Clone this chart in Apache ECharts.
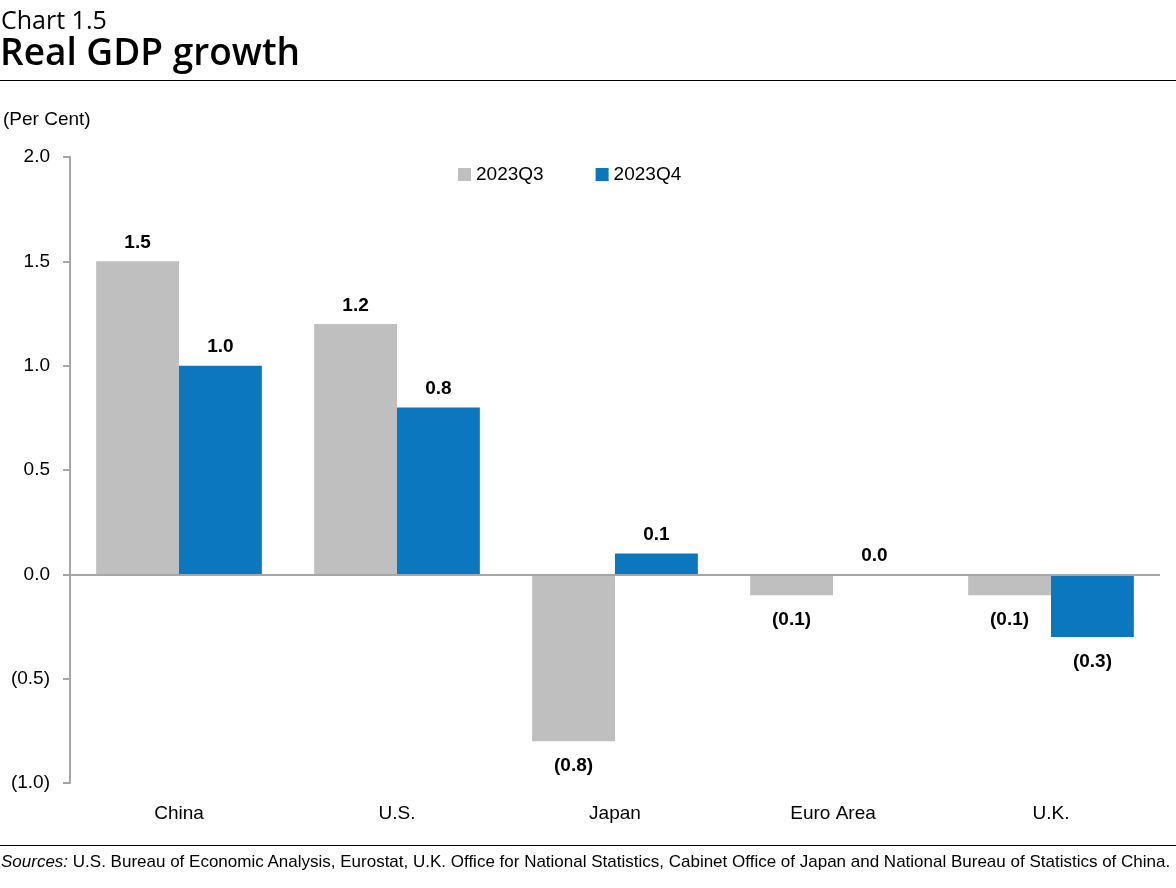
<!DOCTYPE html>
<html>
<head>
<meta charset="utf-8">
<script src="https://cdn.jsdelivr.net/npm/echarts@6/dist/echarts.min.js"></script>
<style>
html,body{margin:0;padding:0;background:#fff;}
#wrap{position:relative;width:1176px;height:888px;overflow:hidden;}
#chart{position:absolute;left:0;top:0;width:1176px;height:888px;}
.t1{position:absolute;left:1px;top:2px;font-family:"Open Sans","Noto Sans",sans-serif;font-size:25px;color:#000;}
.t2{position:absolute;left:0px;top:25px;font-family:"Open Sans","Noto Sans",sans-serif;font-size:37px;font-weight:600;color:#000;}
.hr1{position:absolute;left:0;top:80px;width:1176px;height:1px;background:#000;}
.hr2{position:absolute;left:0;top:845px;width:1176px;height:1px;background:#000;}
.unit{position:absolute;left:3px;top:108px;font-family:"Liberation Sans Narrow","Liberation Sans",Arial,sans-serif;font-size:19px;color:#000;}
.src{position:absolute;left:1px;top:852px;font-family:"Liberation Sans Narrow","Liberation Sans",Arial,sans-serif;font-size:17px;color:#000;white-space:nowrap;}
</style>
</head>
<body>
<div id="wrap">
<div id="chart"></div>
<div class="t1">Chart 1.5</div>
<div class="t2">Real GDP growth</div>
<div class="hr1"></div>
<div class="unit">(Per Cent)</div>
<div class="hr2"></div>
<div class="src"><i>Sources:</i> U.S. Bureau of Economic Analysis, Eurostat, U.K. Office for National Statistics, Cabinet Office of Japan and National Bureau of Statistics of China.</div>
</div>
<script>
var categories = ["China", "U.S.", "Japan", "Euro Area", "U.K."];
var seriesNames = ["2023Q3", "2023Q4"];
var q3Values = [1.5, 1.2, -0.8, -0.1, -0.1];
var q4Values = [1.0, 0.8, 0.1, 0.0, -0.3];
var yTicks = [-1.0, -0.5, 0.0, 0.5, 1.0, 1.5, 2.0];

var FONT = '"Liberation Sans Narrow","Liberation Sans",Arial,sans-serif';

function fmt(v) {
  v = Number(v);
  if (v < -1e-9) return '(' + Math.abs(v).toFixed(1) + ')';
  return v.toFixed(1);
}
function toData(arr) {
  return arr.map(function (v) {
    return { value: v, label: { position: v < 0 ? 'bottom' : 'top', distance: v < 0 ? 15 : 9 } };
  });
}

var chart = echarts.init(document.getElementById('chart'));
chart.setOption({
  animation: false,
  textStyle: { fontFamily: FONT },
  legend: {
    top: 160,
    left: 453,
    itemWidth: 13,
    itemHeight: 13,
    itemGap: 52,
    icon: 'rect',
    textStyle: { fontFamily: FONT, fontSize: 19, color: '#000' },
    data: seriesNames
  },
  grid: { left: 70, right: 16, top: 157, bottom: 105, containLabel: false },
  xAxis: {
    type: 'category',
    data: categories,
    axisLine: { show: false },
    axisTick: { show: false },
    axisLabel: { fontFamily: FONT, fontSize: 19, color: '#000', margin: 21 }
  },
  yAxis: {
    type: 'value',
    min: yTicks[0],
    max: yTicks[yTicks.length - 1],
    interval: 0.5,
    axisLine: { show: true, lineStyle: { color: '#a6a6a6', width: 2 } },
    axisTick: { show: true, length: 7, lineStyle: { color: '#a6a6a6', width: 2 } },
    splitLine: { show: false },
    axisLabel: { fontFamily: FONT, fontSize: 19, color: '#000', margin: 20, formatter: fmt }
  },
  series: [
    {
      name: seriesNames[0],
      type: 'bar',
      data: toData(q3Values),
      barGap: '0%',
      barCategoryGap: '24%',
      itemStyle: { color: '#bfbfbf' },
      label: { show: true, fontFamily: FONT, fontSize: 19, fontWeight: 'bold', color: '#000', formatter: function (p) { return fmt(p.value); } },
      markLine: {
        silent: true,
        symbol: 'none',
        label: { show: false },
        lineStyle: { color: '#a6a6a6', width: 2, type: 'solid' },
        data: [{ yAxis: 0 }]
      },
      z: 2
    },
    {
      name: seriesNames[1],
      type: 'bar',
      data: toData(q4Values),
      barGap: '0%',
      barCategoryGap: '24%',
      itemStyle: { color: '#0a77bf' },
      label: { show: true, fontFamily: FONT, fontSize: 19, fontWeight: 'bold', color: '#000', formatter: function (p) { return fmt(p.value); } },
      z: 2
    }
  ]
});
</script>
</body>
</html>
